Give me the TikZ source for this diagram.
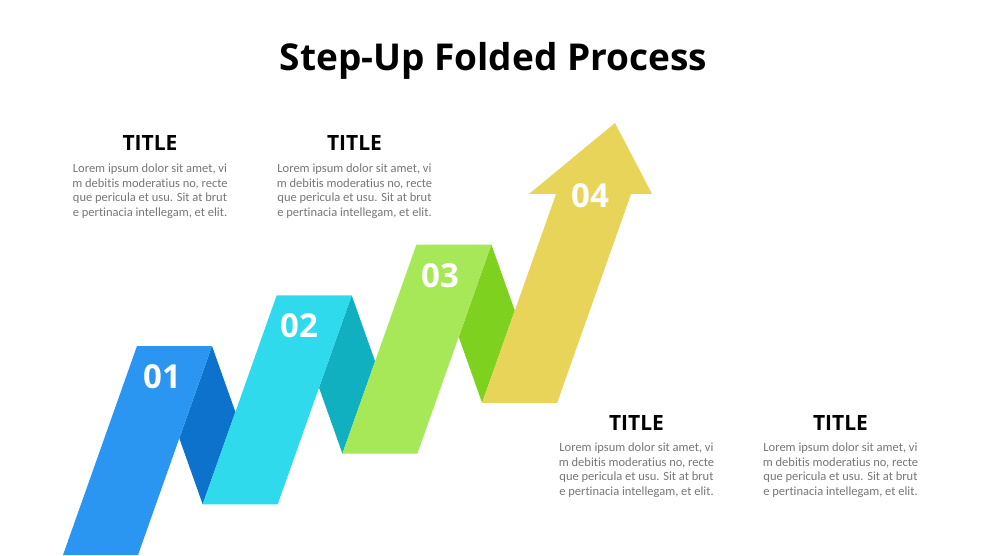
\documentclass[tikz,border=0pt]{standalone}
\usepackage{fontspec}
\setmainfont{Carlito}[Ligatures={NoCommon}]
\newfontfamily\headfont{Open Sans}
\usetikzlibrary{calc}

\definecolor{blueFront}{HTML}{2B95F2}
\definecolor{blueFold}{HTML}{0C72CB}
\definecolor{cyanFront}{HTML}{2EDAEB}
\definecolor{cyanFold}{HTML}{10B0C0}
\definecolor{greenFront}{HTML}{A7E858}
\definecolor{greenFold}{HTML}{7ED11E}
\definecolor{yellowFront}{HTML}{E8D458}
\definecolor{loremgray}{HTML}{767676}

\tikzset{
  bodytext/.style={text=loremgray, font=\fontsize{12.5}{14.8}\selectfont, align=center, inner sep=0pt, anchor=north},
  headtext/.style={font=\headfont\bfseries\fontsize{21}{24}\selectfont, inner sep=0pt, anchor=base},
  numtext/.style={text=white, font=\headfont\bfseries\fontsize{33}{36}\selectfont, inner sep=0pt}
}

\begin{document}
\begin{tikzpicture}[x=1pt,y=-1pt]
\useasboundingbox (0,0) rectangle (988,556);
\node[font=\headfont\bfseries\fontsize{37}{42}\selectfont, inner sep=0pt, anchor=base] (maintitle) at (493.5,71) {Step-Up Folded Process};
% ribbon corners and fold points
\foreach \i in {0,...,3}{
  \coordinate (bl\i) at ({63+139.7*\i},{555-50.7*\i});
  \coordinate (br\i) at ($(bl\i)+(75,0)$);
  \coordinate (tl\i) at ($(bl\i)+(74,-209)$);
  \coordinate (tr\i) at ($(br\i)+(74,-209)$);
  \coordinate (fr\i) at ($(bl\i)+(172.4,-143)$);
  \coordinate (fl\i) at ($(bl\i)+(116.3,-116.7)$);
}
% folds
\foreach \i/\j/\col in {0/1/blueFold,1/2/cyanFold,2/3/greenFold}{
  \fill[\col] (tr\i) -- (fr\i) -- (bl\j) -- (fl\i) -- cycle;
}
% fronts
\foreach \i/\col in {0/blueFront,1/cyanFront,2/greenFront}{
  \fill[\col] (bl\i) -- (br\i) -- (tr\i) -- (tl\i) -- cycle;
}
\coordinate (wl) at (529,194);
\coordinate (tip) at (615,123);
\coordinate (wr) at (652,194);
\fill[yellowFront] (bl3) -- (br3) -- (tr3) -- (wr) -- (tip) -- (wl) -- (tl3) -- cycle;
\node[numtext] (n1) at (162,377) {01};
\node[numtext] (n2) at (299,326) {02};
\node[numtext] (n3) at (440,275.5) {03};
\node[numtext] (n4) at (590,195.5) {04};
% text blocks
\foreach \x/\y [count=\k] in {150/0,354.5/0,636.5/279,840.5/279}{
  \node[headtext] (title\k) at (\x,151+\y) {TITLE};
  \node[bodytext] (body\k) at (\x,163.5+\y) {Lorem ipsum dolor sit amet, vi\\m debitis moderatius no, recte\\que pericula et usu. Sit at brut\\e pertinacia intellegam, et elit.};
}
\end{tikzpicture}
\end{document}
